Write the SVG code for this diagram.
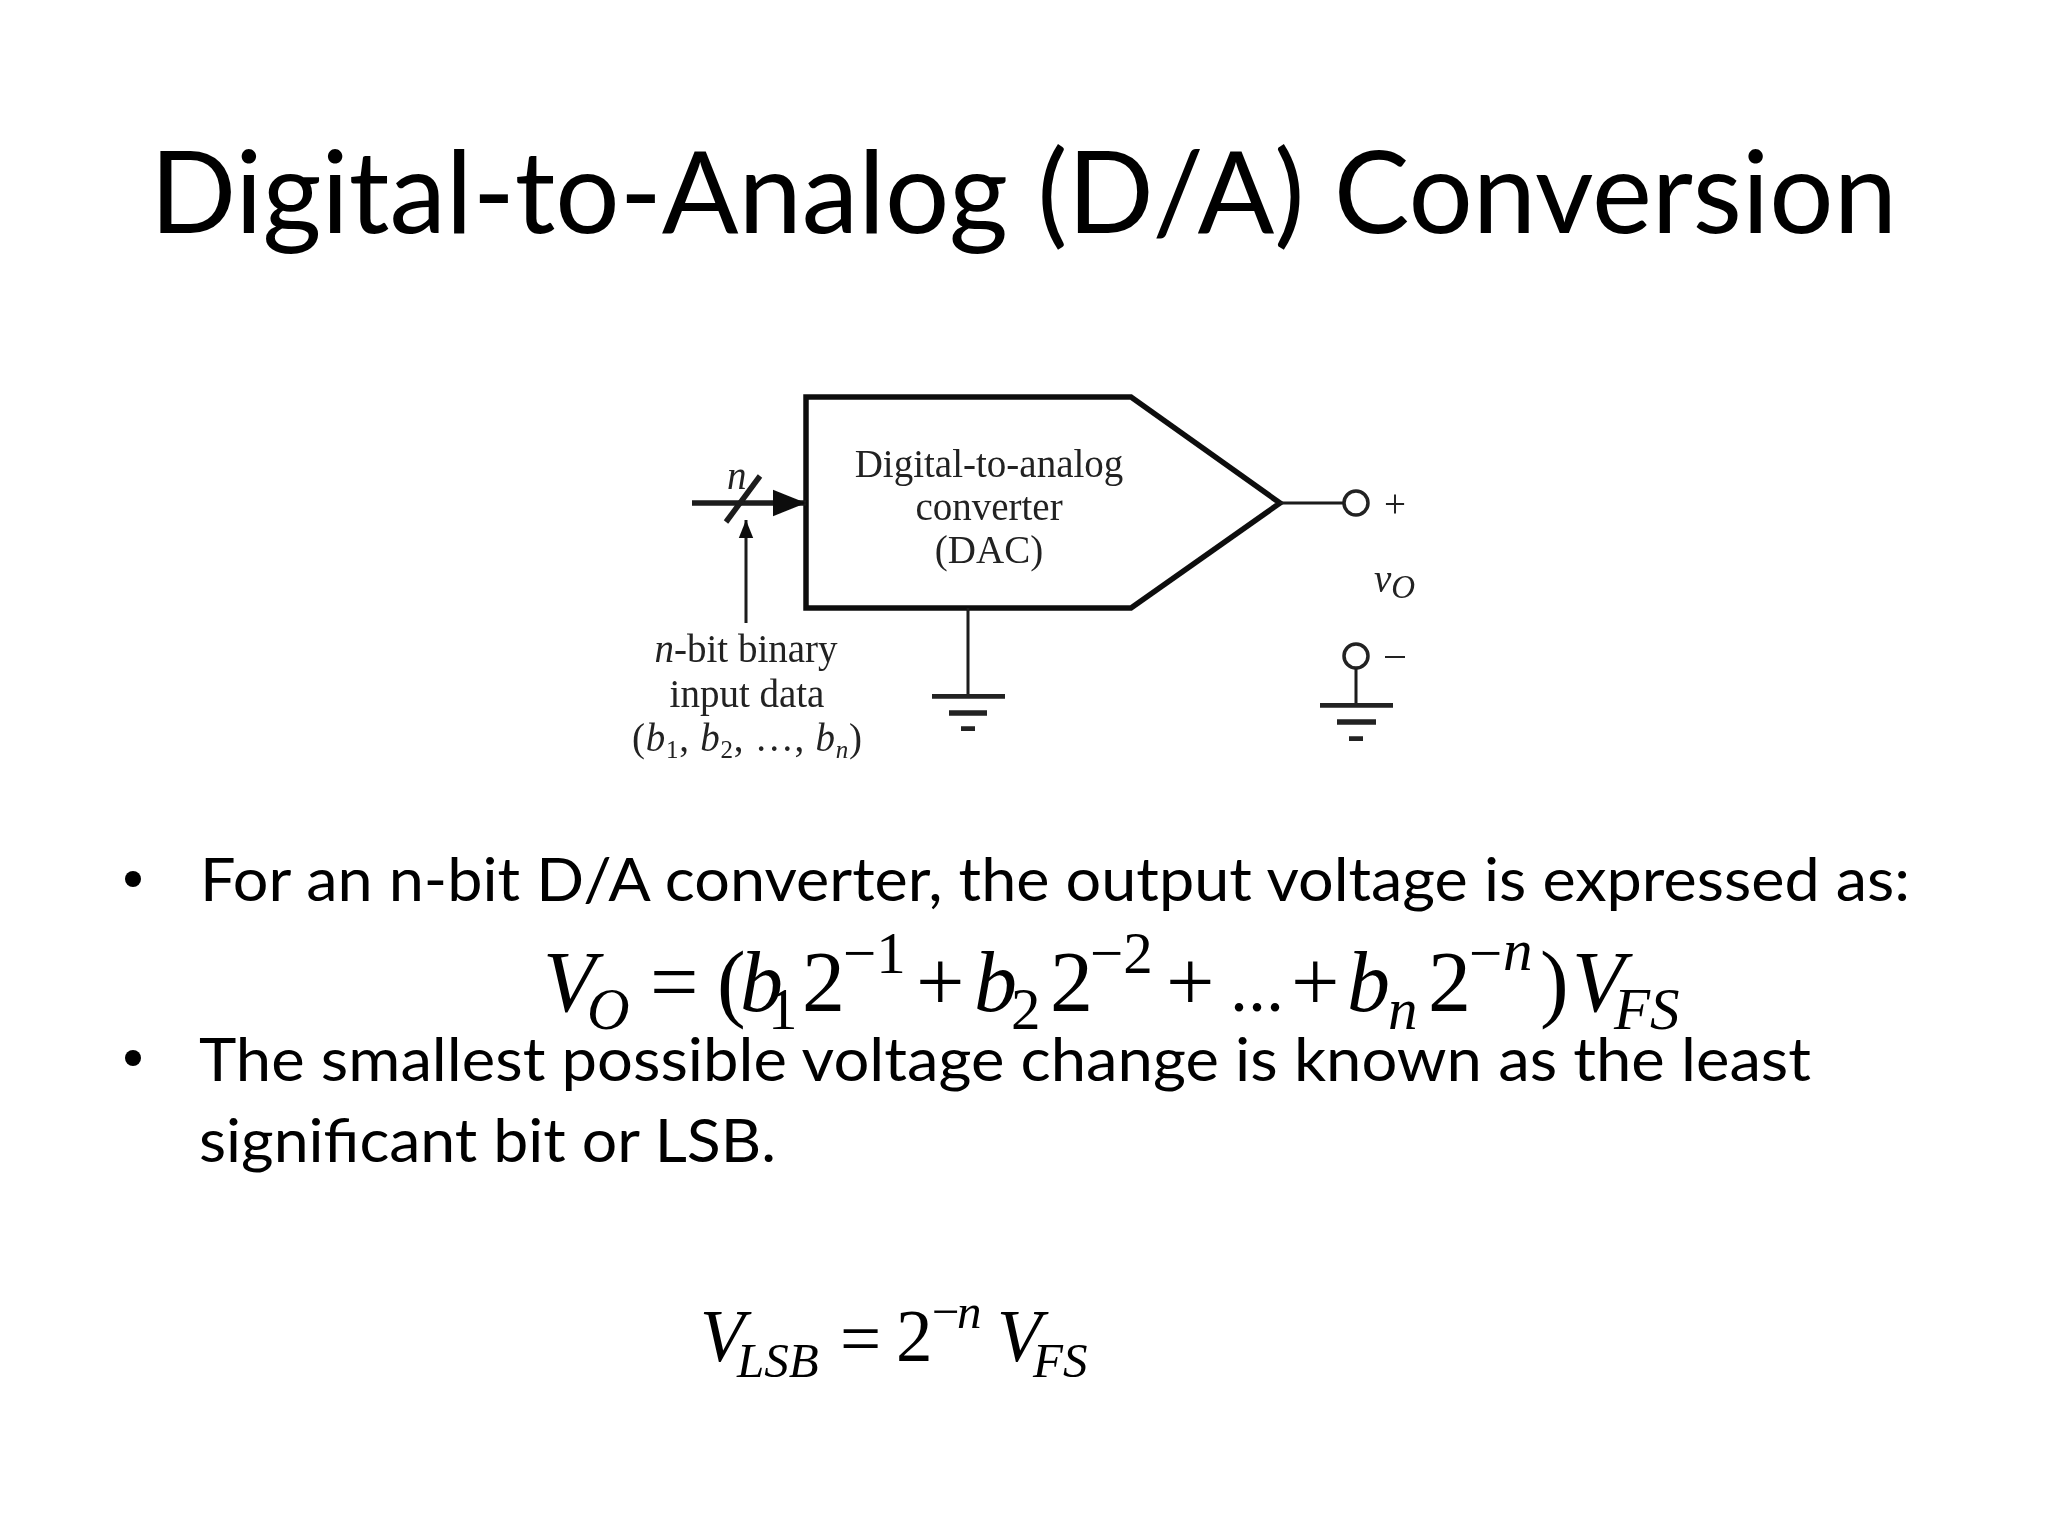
<svg xmlns="http://www.w3.org/2000/svg" width="2048" height="1536" viewBox="0 0 2048 1536">
<style>
.s{font-family:"Lato","Liberation Sans",sans-serif;fill:#000}
.t{font-family:"Liberation Serif",serif;fill:#222;font-size:39px}
.ti{font-style:italic}
.m{font-family:"Liberation Serif",serif;fill:#000}
.i{font-style:italic}
.big{font-size:86px}.sub{font-size:59px}
.b2{font-size:73px}.sb2{font-size:49px}
.ln{stroke:#1a1a1a;fill:none}
.gb{stroke:#222;stroke-width:5.5;fill:none}
.soft{filter:url(#soft)}
</style>
<defs>
<filter id="soft" x="-5%" y="-5%" width="110%" height="110%"><feGaussianBlur stdDeviation="0.7"/></filter>
<marker id="ah" markerWidth="6" markerHeight="6" refX="6" refY="3" orient="auto"><path d="M0,0.6 L6,3 L0,5.4 Z" fill="#111"/></marker>
</defs>
<rect width="2048" height="1536" fill="#fff"/>
<text id="title" class="s" x="150" y="233" font-size="114" textLength="1747" lengthAdjust="spacingAndGlyphs">Digital-to-Analog (D/A) Conversion</text>

<g id="dac" class="soft">
<path d="M806,397 H1131 L1280,503 L1131,608 H806 Z" fill="#fff" stroke="#111" stroke-width="5.5"/>
<text class="t" x="989" y="477" text-anchor="middle">Digital-to-analog</text>
<text class="t" x="989" y="520" text-anchor="middle">converter</text>
<text class="t" x="989" y="563" text-anchor="middle">(DAC)</text>
</g>
<g id="input-label" class="soft">
<text class="t" x="746" y="662" text-anchor="middle"><tspan class="ti">n</tspan>-bit binary</text>
<text class="t" x="747" y="707" text-anchor="middle">input data</text>
<text class="t" x="632" y="751" textLength="230">(<tspan class="ti">b</tspan><tspan font-size="25" dy="7">1</tspan><tspan dy="-7">, </tspan><tspan class="ti">b</tspan><tspan font-size="25" dy="7">2</tspan><tspan dy="-7">, …, </tspan><tspan class="ti">b</tspan><tspan class="ti" font-size="25" dy="7">n</tspan><tspan dy="-7">)</tspan></text>
<text class="t ti" x="727" y="489">n</text>
</g>
<g id="out-plus" class="soft">
<circle cx="1356" cy="503" r="12" fill="#fff" stroke="#222" stroke-width="3.5"/>
<text class="t" x="1395" y="517" text-anchor="middle" font-size="40">+</text>
</g>
<g id="out-minus" class="soft">
<circle cx="1356" cy="656" r="12" fill="#fff" stroke="#222" stroke-width="3.5"/>
<text class="t" x="1395" y="666" text-anchor="middle" font-size="38">–</text>
</g>
<g id="vo" class="soft">
<text class="t ti" x="1374" y="592" font-size="46">v<tspan font-size="33" dy="6">O</tspan></text>
</g>
<g id="connectors" class="soft">
<line class="ln" x1="692" y1="503" x2="806" y2="503" stroke-width="5.5" marker-end="url(#ah)"/>
<line class="ln" x1="726" y1="522" x2="760" y2="476" stroke-width="5.5"/>
<line class="ln" x1="746" y1="623" x2="746" y2="520" stroke-width="3" marker-end="url(#ah)"/>
<line class="ln" x1="1280" y1="503" x2="1344" y2="503" stroke-width="3"/>
<line class="ln" x1="968" y1="608" x2="968" y2="696" stroke-width="3"/>
<line class="ln" x1="1356" y1="668" x2="1356" y2="705" stroke-width="3"/>
</g>
<g id="ground-dac" class="soft">
<path class="gb" d="M932,696 H1005 M949,713 H987 M961,729 H975"/>
</g>
<g id="ground-out" class="soft">
<path class="gb" d="M1320,705 H1393 M1337,722 H1376 M1349,739 H1363"/>
</g>

<g id="bullets">
<circle cx="133" cy="879" r="8"/>
<circle cx="133" cy="1058" r="8"/>
<text class="s" x="200" y="901" font-size="60" textLength="1710" lengthAdjust="spacingAndGlyphs">For an n-bit D/A converter, the output voltage is expressed as:</text>
<text class="s" x="199" y="1081" font-size="60" textLength="1612" lengthAdjust="spacingAndGlyphs">The smallest possible voltage change is known as the least</text>
<text class="s" x="199" y="1162" font-size="60" textLength="577" lengthAdjust="spacingAndGlyphs">significant bit or LSB.</text>
</g>

<g id="eq1">
<text class="m big"><tspan class="i" x="543" y="1011">V</tspan><tspan class="i sub" x="587" y="1029">O</tspan><tspan x="650" y="1011">=</tspan><tspan x="717" y="1011">(</tspan><tspan class="i" x="740" y="1011">b</tspan><tspan class="sub" x="768" y="1029">1</tspan><tspan x="802" y="1011">2</tspan><tspan class="sub" x="843" y="973">−1</tspan><tspan x="916" y="1011">+</tspan><tspan class="i" x="974" y="1011">b</tspan><tspan class="sub" x="1011" y="1029">2</tspan><tspan x="1050" y="1011">2</tspan><tspan class="sub" x="1090" y="973">−2</tspan><tspan x="1166" y="1011">+</tspan><tspan font-size="72" x="1230" y="1011">...</tspan><tspan x="1291" y="1011">+</tspan><tspan class="i" x="1347" y="1011">b</tspan><tspan class="i sub" x="1388" y="1029">n</tspan><tspan x="1428" y="1011">2</tspan><tspan class="sub" x="1469" y="973">−</tspan><tspan class="i sub" x="1503" y="970">n</tspan><tspan x="1540" y="1011">)</tspan><tspan class="i" x="1572" y="1011">V</tspan><tspan class="i sub" x="1614" y="1029">FS</tspan></text>
</g>
<g id="eq2">
<text class="m b2"><tspan class="i" x="700" y="1361">V</tspan><tspan class="i sb2" x="737" y="1377">LSB</tspan><tspan x="840" y="1363">=</tspan><tspan x="896" y="1361">2</tspan><tspan class="sb2" x="932" y="1328">−</tspan><tspan class="i sb2" x="957" y="1328">n</tspan><tspan class="i" x="997" y="1361">V</tspan><tspan class="i sb2" x="1033" y="1377">FS</tspan></text>
</g>
</svg>
